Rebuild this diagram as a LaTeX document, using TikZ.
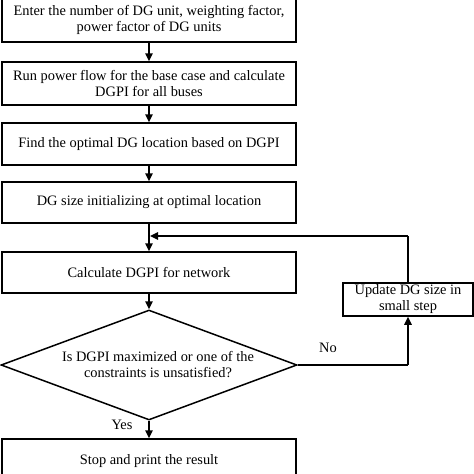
\documentclass[tikz,border=0pt]{standalone}
\usepackage{fontspec}
\setmainfont{Liberation Serif}
\usetikzlibrary{arrows.meta,shapes.geometric}
\begin{document}
\begin{tikzpicture}[x=1pt,y=-1pt,
  every node/.style={font=\fontsize{14.4}{16}\selectfont},
  box/.style={draw,line width=1.5pt,rectangle,inner sep=0pt,minimum width=294pt,align=center},
  dia/.style={draw,line width=1.5pt,diamond,inner sep=0pt,minimum width=296pt,minimum height=110pt,aspect=2.69,align=center},
  arr/.style={line width=1.5pt,-{Triangle[length=8pt,width=7.5pt]}},
  ln/.style={line width=1.5pt}]
\clip (0,0) rectangle (474,474);
\node[box,minimum height=45pt] (b1) at (149,19.5) {Enter the number of DG unit, weighting factor,\\power factor of DG units};
\node[box,minimum height=43pt] (b2) at (149,83.5) {Run power flow for the base case and calculate\\DGPI for all buses};
\node[box,minimum height=42pt] (b3) at (149,144) {Find the optimal DG location based on DGPI};
\node[box,minimum height=41pt] (b4) at (149,202.5) {DG size initializing at optimal location};
\node[box,minimum height=41pt] (b5) at (149,272.5) {Calculate DGPI for network};
\node[dia] (d) at (149,365) {\hspace*{18pt}Is DGPI maximized or one of the\\\hspace*{18pt}constraints is unsatisfied?};
\node[box,minimum height=44pt] (b6) at (149,461) {Stop and print the result};
\node[draw,line width=1.5pt,rectangle,inner sep=0pt,minimum width=130pt,minimum height=33pt,align=center] (u) at (408,299.5) {Update DG size in\\small step};
\coordinate (j) at (149,236);
\coordinate (c1) at (408,365);
\coordinate (c2) at (408,236);
\draw[arr] (b1) -- (b2);
\draw[arr] (b2) -- (b3);
\draw[arr] (b3) -- (b4);
\draw[arr] (b4) -- (b5);
\draw[arr] (b5) -- (d);
\draw[arr] (d) -- (b6);
\draw[ln] (d.east) -- (c1);
\draw[arr] (c1) -- (u.south);
\draw[ln] (u.north) -- (c2);
\draw[arr] (c2) -- ([xshift=1pt]j);
\node (no) at (328,348) {No};
\node (yes) at (122,425) {Yes};
\end{tikzpicture}
\end{document}
